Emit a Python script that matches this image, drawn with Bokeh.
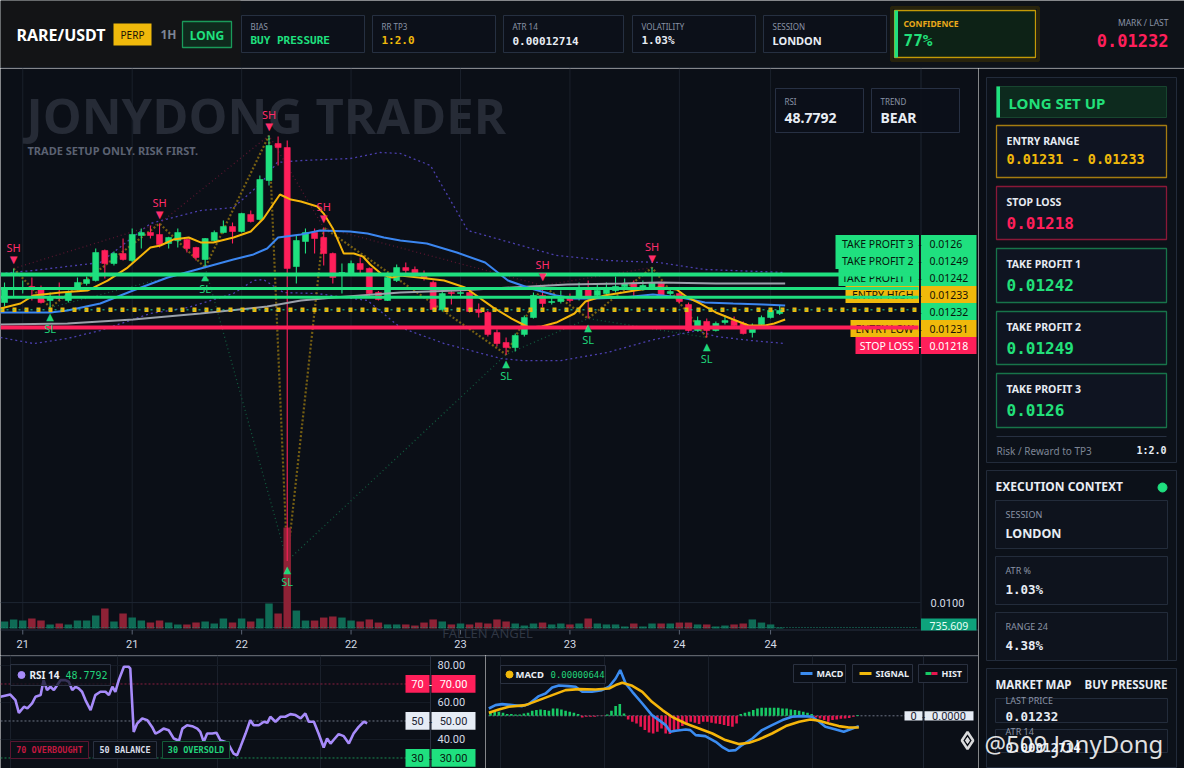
from bokeh.plotting import figure
from bokeh.layouts import column, row
from bokeh.models import Range1d, ColumnDataSource
from bokeh.embed import file_html
from bokeh.resources import INLINE
from bokeh.core.properties import value

# ======================= DATA =======================
date_ticks = [2, 14, 26, 38, 50, 62, 74, 84]
date_labels = ["21", "21", "22", "22", "23", "23", "24", "24"]

# candles, prices in units of 1e-5 USDT
c_open = [1237.8, 1248.1, 1248.1, 1250.5, 1248.9, 1239.4, 1242.6, 1239.4, 1248.9, 1252.9,
          1255.2, 1279.0, 1268.7, 1276.6, 1271.1, 1290.9, 1293.3, 1291.7, 1284.6, 1286.9,
          1287.7, 1281.4, 1271.9, 1286.9, 1293.3, 1298.0, 1294.1, 1307.6, 1303.6, 1334.5,
          1363.8, 1360.6, 1266.3, 1286.2, 1293.3, 1289.3, 1276.6, 1259.2, 1260.8, 1268.7,
          1264.8, 1245.7, 1239.4, 1255.2, 1265.5, 1264.0, 1260.8, 1253.7, 1232.3, 1245.7,
          1244.9, 1245.7, 1232.3, 1229.9, 1214.0, 1206.1, 1202.1, 1212.5, 1225.9, 1243.4,
          1237.8, 1238.6, 1242.6, 1241.0, 1249.7, 1243.4, 1244.9, 1247.3, 1250.5, 1252.9,
          1248.9, 1249.7, 1252.9, 1244.9, 1244.9, 1236.2, 1215.6, 1222.8, 1215.6, 1222.0,
          1223.5, 1221.2, 1214.0, 1220.4, 1225.9, 1229.1]
c_high = [1253.7, 1264.8, 1255.2, 1257.6, 1251.3, 1245.7, 1253.7, 1247.3, 1257.6, 1258.4,
          1280.6, 1279.8, 1278.2, 1288.5, 1296.5, 1296.5, 1298.8, 1300.4, 1290.0, 1296.5,
          1288.5, 1282.0, 1289.0, 1294.9, 1302.8, 1301.2, 1309.0, 1310.7, 1338.5, 1370.2,
          1369.4, 1366.2, 1290.9, 1296.5, 1296.5, 1297.2, 1277.4, 1268.7, 1271.1, 1273.5,
          1265.6, 1247.0, 1261.6, 1267.9, 1269.5, 1266.3, 1263.2, 1255.2, 1249.7, 1247.3,
          1251.3, 1247.3, 1237.0, 1231.0, 1216.4, 1210.1, 1213.2, 1227.5, 1245.7, 1251.3,
          1241.8, 1247.3, 1244.9, 1253.7, 1255.2, 1252.9, 1253.7, 1258.4, 1256.8, 1255.2,
          1255.2, 1265.5, 1254.5, 1248.9, 1246.5, 1237.8, 1226.7, 1225.1, 1222.8, 1227.5,
          1226.7, 1222.8, 1221.2, 1227.5, 1233.1, 1235.4]
c_low = [1234.6, 1241.8, 1244.9, 1239.4, 1237.0, 1233.8, 1239.4, 1237.8, 1247.3, 1251.3,
         1254.4, 1256.8, 1267.1, 1271.1, 1269.5, 1280.6, 1288.5, 1281.4, 1280.6, 1281.4,
         1277.4, 1271.1, 1265.5, 1286.0, 1292.5, 1284.6, 1293.3, 1301.2, 1302.8, 1330.5,
         1346.4, 1033.0, 1252.9, 1276.6, 1276.6, 1267.1, 1252.9, 1244.9, 1260.0, 1260.8,
         1241.8, 1239.4, 1239.0, 1254.0, 1260.8, 1259.2, 1255.2, 1231.5, 1230.7, 1236.2,
         1241.8, 1229.9, 1225.9, 1210.9, 1202.9, 1196.6, 1199.0, 1210.9, 1225.1, 1233.8,
         1236.2, 1237.0, 1237.8, 1239.4, 1225.1, 1241.8, 1243.4, 1245.7, 1248.9, 1241.0,
         1247.3, 1248.1, 1241.8, 1242.6, 1237.0, 1214.8, 1214.8, 1210.1, 1214.8, 1220.4,
         1218.8, 1212.5, 1210.1, 1218.8, 1225.1, 1228.0]
c_close = [1248.9, 1249.7, 1249.7, 1248.1, 1237.8, 1242.6, 1241.0, 1245.7, 1253.7, 1256.0,
           1277.4, 1268.7, 1276.6, 1271.9, 1291.7, 1293.3, 1290.9, 1283.8, 1289.3, 1293.3,
           1280.6, 1273.5, 1288.5, 1293.3, 1298.0, 1294.1, 1308.3, 1302.0, 1335.3, 1362.2,
           1360.6, 1264.8, 1286.9, 1293.3, 1288.5, 1276.6, 1257.6, 1261.6, 1268.7, 1264.0,
           1244.9, 1240.2, 1257.6, 1265.5, 1263.2, 1260.8, 1256.8, 1232.3, 1244.9, 1244.9,
           1245.7, 1230.7, 1229.9, 1212.5, 1205.3, 1202.1, 1211.7, 1225.9, 1243.4, 1237.0,
           1238.6, 1241.0, 1239.4, 1249.7, 1241.8, 1247.3, 1248.9, 1250.5, 1252.9, 1247.3,
           1251.3, 1253.7, 1243.4, 1246.5, 1238.6, 1215.6, 1223.5, 1215.6, 1221.2, 1223.5,
           1219.6, 1213.2, 1219.6, 1225.9, 1231.5, 1231.5]
volume_k = [52, 67, 59, 74, 59, 30, 37, 30, 59, 59, 96, 148, 52, 111, 81, 59, 44, 59, 44, 30,
            30, 44, 52, 37, 74, 44, 74, 52, 74, 185, 111, 747, 133, 59, 59, 81, 89, 81, 59, 52,
            67, 44, 30, 30, 30, 22, 44, 67, 52, 30, 37, 30, 44, 37, 67, 52, 37, 22, 37, 44,
            30, 37, 30, 37, 74, 37, 30, 30, 15, 37, 15, 37, 37, 37, 44, 44, 30, 30, 15, 22,
            30, 37, 67, 44, 30, 7]
last_volume = "735.609"

# moving averages / bands (x = candle index, y = price x 1e5)
ema_fast_x = [-0.44, 1.75, 3.18, 6.14, 9.1, 11.3, 13.5, 16.0, 17.1, 18.5, 20.2, 21.5, 22.9, 25.1, 27.0,
              28.4, 30.2, 31.4, 32.5, 34.3, 35.0, 36.0, 37.2, 38.3, 39.3, 40.1, 41.4, 42.5, 43.4, 45.4,
              48.2, 50.5, 53.6, 55.6, 57.5, 58.9, 60.5, 62.5, 63.7, 65.8, 67.8, 69.8, 71.8, 73.7, 74.9,
              76.3, 78.0, 79.9, 81.6, 83.4, 84.4, 85.6]
ema_fast_y = [1233.1, 1237.0, 1243.4, 1245.7, 1247.3, 1255.2, 1265.5, 1281.4, 1283.0, 1287.7, 1289.3,
              1285.4, 1285.4, 1289.3, 1294.1, 1304.4, 1323.4, 1319.4, 1317.9, 1313.9, 1308.3, 1296.5,
              1276.6, 1276.6, 1274.3, 1267.9, 1260.0, 1257.6, 1259.2, 1257.6, 1255.2, 1249.7, 1233.8,
              1225.1, 1218.0, 1218.8, 1221.9, 1229.1, 1238.6, 1243.4, 1245.7, 1248.1, 1249.7, 1248.1,
              1241.8, 1237.0, 1229.9, 1224.3, 1219.6, 1219.6, 1221.2, 1224.3]
ema_mid_x = [-0.44, 5.04, 6.9, 10.5, 14.1, 17.9, 21.5, 25.1, 27.3, 28.8, 30.0, 32.5, 34.6, 37.9, 39.8,
             41.6, 43.4, 46.3, 49.6, 52.7, 55.2, 57.7, 60.5, 62.5, 64.6, 67.8, 71.1, 74.2, 76.8, 79.9,
             83.2, 85.6]
ema_mid_y = [1229.9, 1229.9, 1231.5, 1237.0, 1247.3, 1257.6, 1264.8, 1271.9, 1275.9, 1280.6, 1289.3,
             1291.7, 1294.9, 1294.1, 1292.5, 1289.3, 1286.9, 1284.6, 1277.4, 1269.5, 1255.2, 1248.9,
             1243.4, 1241.0, 1241.0, 1241.8, 1244.2, 1241.8, 1237.8, 1237.0, 1236.2, 1235.4]
ma_slow_x = [-0.44, 6.9, 14.1, 21.5, 28.8, 32.5, 36.1, 43.4, 49.6, 55.6, 61.7, 67.8, 71.8, 78.0, 85.6]
ma_slow_y = [1220.4, 1221.2, 1224.3, 1229.1, 1234.6, 1239.4, 1241.8, 1245.7, 1247.3, 1249.7, 1252.1,
             1252.9, 1253.7, 1252.9, 1252.9]
bb_up_x = [-0.44, 3.18, 10.5, 16.0, 21.5, 25.1, 28.1, 29.9, 32.5, 37.9, 41.2, 43.4, 46.7, 50.8, 60.5,
           66.1, 71.8, 76.8, 85.6]
bb_up_y = [1260.8, 1263.2, 1269.5, 1300.4, 1310.7, 1313.1, 1332.1, 1348.8, 1350.3, 1351.9, 1356.7,
           1355.9, 1346.4, 1294.9, 1275.1, 1271.1, 1269.5, 1264.0, 1261.6]
bb_lo_x = [-0.44, 3.18, 6.9, 10.5, 16.0, 20.1, 25.1, 27.3, 28.4, 30.6, 34.3, 39.8, 43.4, 45.8, 48.2,
           51.1, 54.4, 56.8, 61.0, 66.1, 70.8, 75.9, 78.0, 81.8, 85.6]
bb_lo_y = [1210.1, 1205.3, 1209.3, 1215.6, 1229.1, 1233.8, 1244.9, 1255.2, 1256.0, 1245.7, 1244.9,
           1239.4, 1218.0, 1211.7, 1205.3, 1199.8, 1193.4, 1191.8, 1191.8, 1198.2, 1207.7, 1215.6,
           1210.9, 1207.7, 1205.3]

swing_high_idx = [1, 17, 29, 35, 59, 71]
swing_low_idx = [5, 22, 31, 55, 64, 77]

level_names = ["TAKE PROFIT 3", "TAKE PROFIT 2", "TAKE PROFIT 1", "ENTRY HIGH", "", "ENTRY LOW", "STOP LOSS"]
level_prices = [0.0126, 0.01249, 0.01242, 0.01233, 0.01232, 0.01231, 0.01218]
level_text = ["0.0126", "0.01249", "0.01242", "0.01233", "0.01232", "0.01231", "0.01218"]

# RSI 14 (x = bar index of the RSI pane)
rsi_x = [0, 2.3, 3.5, 4.3, 5.5, 6.3, 7.4, 8.2, 9.4, 10.1, 10.9, 11.7, 12.5, 13.3, 14.1, 15.2, 16.0,
         16.8, 17.6, 18.3, 19.1, 19.9, 21.1, 22.2, 23.4, 24.6, 25.4, 26.2, 26.9, 27.7, 28.9, 30.0,
         30.4, 31.2, 32.0, 33.2, 34.4, 35.5, 36.3, 37.1, 38.2, 39.4, 40.6, 41.8, 42.6, 43.7, 44.9,
         46.1, 46.8, 47.6, 48.4, 49.6, 50.6, 51.5, 52.7, 53.5, 54.6, 55.4, 56.2, 57.4, 58.5, 59.3,
         60.5, 61.7, 62.5, 63.2, 64.4, 65.6, 66.7, 67.9, 69.1, 70.3, 71.4, 72.2, 73.4, 74.5, 75.7,
         76.5, 77.3, 78.1, 79.2, 80.4, 81.6, 82.7, 83.9, 85.1, 85.9]
rsi_v = [63.1, 64.3, 61.3, 54.4, 57.7, 56.8, 59.5, 63.1, 64.0, 72.1, 66.7, 68.5, 66.7, 69.4, 72.1, 72.1,
         71.2, 66.7, 68.5, 67.6, 65.8, 61.3, 55.9, 64.0, 65.8, 65.8, 64.0, 68.5, 65.8, 72.1, 79.3, 79.3,
         78.4, 44.1, 48.6, 51.4, 50.4, 46.8, 43.2, 44.1, 45.9, 45.0, 40.5, 39.3, 45.9, 47.7, 47.2, 45.9,
         44.1, 38.7, 43.2, 43.2, 43.6, 39.6, 38.7, 36.9, 32.4, 31.5, 36.0, 43.2, 50.4, 47.7, 47.7, 49.6,
         49.0, 52.3, 49.6, 52.3, 52.3, 53.7, 53.2, 51.4, 54.1, 49.6, 49.6, 43.2, 35.7, 40.5, 37.8, 40.0,
         42.9, 41.8, 37.8, 43.2, 46.8, 49.6, 48.8]
rsi_last = "48.7792"
rsi_levels = [70, 50, 30]
rsi_axis = [80, 60, 40]

# MACD (units of 1e-6)
macd_x = [-0.4, 1.2, 2.8, 5.2, 7.6, 9.2, 11.6, 13.2, 14.8, 16.4, 18.7, 20.4, 22.0, 24.3, 26.7, 28.4,
          30.0, 31.1, 32.4, 34.0, 36.4, 38.7, 40.4, 42.0, 43.1, 44.4, 46.8, 47.9, 49.2, 51.5, 54.0,
          55.5, 57.2, 58.8, 60.3, 62.8, 65.1, 67.5, 70.0, 72.3, 74.8, 77.1, 78.8, 80.3, 82.8, 84.7,
          86.8, 88.3]
macd_v = [7.3, 10.7, 11.7, 10.7, 9.7, 11.7, 19.7, 22.3, 28.3, 30.3, 29.7, 29.0, 24.0, 24.0, 25.7, 29.0,
          37.3, 45.7, 32.3, 24.0, 12.3, 0.7, -4.3, -9.3, -16.0, -15.0, -13.7, -14.3, -19.3, -20.3,
          -26.0, -31.0, -35.0, -34.3, -29.3, -22.7, -14.3, -9.3, -4.3, -1.0, -0.3, -1.0, -6.0, -11.0,
          -13.7, -16.0, -12.7, -10.3]
signal_x = [-0.4, 2.0, 4.4, 8.4, 11.6, 14.8, 18.0, 21.2, 25.2, 28.4, 30.0, 31.6, 34.0, 36.4, 38.7,
            41.2, 43.5, 46.8, 50.0, 53.2, 56.3, 59.5, 62.0, 64.3, 67.5, 70.8, 74.0, 76.7, 78.8, 81.1,
            83.5, 85.9, 88.3]
signal_v = [3.0, 6.3, 9.0, 10.7, 15.7, 20.7, 25.7, 26.7, 26.3, 27.3, 30.7, 33.0, 30.0, 24.0, 14.0, 5.7,
            -1.0, -7.7, -12.7, -17.7, -24.3, -28.3, -27.0, -23.7, -17.7, -10.3, -6.0, -3.7, -5.0, -7.7,
            -10.3, -11.7, -11.7]
hist_v = [4.0, 5.0, 4.0, 3.0, 1.7, 1.7, 1.3, 1.3, 2.3, 3.0, 5.0, 5.7, 6.3, 5.7, 5.0, 7.3, 7.3, 6.3, 5.0,
          4.0, 3.0, 1.7, -1.7, -1.0, -1.0, -1.0, -0.3, -0.3, 1.3, 5.0, 9.7, 11.7, 2.3, -3.7, -6.0, -7.7,
          -11.0, -14.3, -16.7, -17.7, -16.0, -12.7, -17.7, -18.3, -16.0, -13.7, -10.3, -7.7, -6.0, -7.0,
          -8.3, -6.0, -6.0, -7.0, -7.7, -8.3, -9.3, -10.3, -11.0, -7.7, 1.7, 3.0, 4.0, 5.7, 7.3, 8.0, 8.0,
          8.0, 8.0, 8.0, 7.3, 7.3, 6.3, 5.7, 5.0, 4.0, 3.0, 1.7, -1.7, -2.7, -4.3, -6.0, -4.3, -3.7, -3.0,
          -2.7, -2.3, -1.0, 0.7]
macd_last = "0.00000644"

header_stats = [("BIAS", "BUY PRESSURE"), ("RR TP3", "1:2.0"), ("ATR 14", "0.00012714"),
                ("VOLATILITY", "1.03%"), ("SESSION", "LONDON")]

# ======================= STYLE =======================
BG = "#0b0f17"
GREEN = "#1fe07f"
RED = "#ff1f5a"
YEL = "#f0b90b"
GRAY = "#8a93a6"
WHITE = "#e8edf4"
SANS = "Noto Sans"
MONO = "DejaVu Sans Mono"
P = 1e-5


def mkfig(w, h, xr, yr, bg):
    p = figure(width=w, height=h, x_range=xr, y_range=yr, output_backend="svg",
               toolbar_location=None, x_axis_location=None, y_axis_location=None, min_border=0)
    p.background_fill_color = bg
    p.border_fill_color = bg
    p.outline_line_color = None
    p.xgrid.visible = False
    p.ygrid.visible = False
    return p


def box(p, x0, y0, x1, y1, fill=None, line=None, lw=1.0, fa=1.0, la=1.0, **kw):
    p.quad(left=[x0], right=[x1], top=[y0], bottom=[y1], fill_color=fill, fill_alpha=fa,
           line_color=line, line_width=lw, line_alpha=la, **kw)


def label(p, x, y, s, size, color, font=SANS, bold=False, align="left", alpha=1.0, **kw):
    p.text(x=[x], y=[y], text=[s], text_font=value(font), text_font_size=f"{size}px",
           text_font_style="bold" if bold else "normal", text_color=color,
           text_align=align, text_baseline="middle", text_alpha=alpha, **kw)


def hline(p, x0, x1, y, color, lw=1.0, dash="solid", alpha=1.0, **kw):
    p.segment(x0=[x0], x1=[x1], y0=[y], y1=[y], line_color=color, line_width=lw,
              line_dash=dash, line_alpha=alpha, **kw)


def vline(p, x, y0, y1, color, lw=1.0, **kw):
    p.segment(x0=[x], x1=[x], y0=[y0], y1=[y1], line_color=color, line_width=lw, **kw)


# ======================= HEADER =======================
hdr = mkfig(1184, 68, Range1d(0, 1184), Range1d(68, 0), "#0e1218")
box(hdr, 0, 0, 240, 67, fill="#131416", line=None)
label(hdr, 16, 34, "RARE/USDT", 16, "#ffffff", bold=True)
box(hdr, 113, 23, 151, 45, fill=YEL)
label(hdr, 132, 34.5, "PERP", 10, "#1a1405", align="center")
label(hdr, 160, 34, "1H", 12, "#7d8595", bold=True)
box(hdr, 182, 21, 231, 47, fill="#0f2a1d", line="#1a9a5a", lw=1.3)
label(hdr, 206.5, 34.5, "LONG", 12, GREEN, bold=True, align="center")
stat_x = [(241, 364), (372, 495), (503, 623), (632, 755), (763, 886)]
stat_col = [GREEN, YEL, WHITE, WHITE, WHITE]
stat_font = [MONO, MONO, MONO, MONO, SANS]
for (x0, x1), (lab, val), col, fnt in zip(stat_x, header_stats, stat_col, stat_font):
    box(hdr, x0, 15, x1, 52, fill="#0c1019", line="#263041")
    label(hdr, x0 + 9, 26, lab, 8, GRAY)
    label(hdr, x0 + 9, 40, val, 11, col, font=fnt, bold=True)
box(hdr, 891, 7, 1038, 60, fill=None, line="#3a2f05", lw=3, la=0.6)
box(hdr, 894, 10, 1035, 57, fill="#0d2216", line="#c49a06", lw=1.3)
box(hdr, 894, 10, 897.5, 57, fill=GREEN, line=None)
label(hdr, 903, 23, "CONFIDENCE", 8.5, "#e9a91a", bold=True)
label(hdr, 903, 40, "77%", 16, "#22e07a", font=MONO, bold=True)
label(hdr, 1168, 22, "MARK / LAST", 8.5, GRAY, align="right")
label(hdr, 1168, 40, level_text[4], 17, RED, font=MONO, bold=True, align="right")
hline(hdr, 0, 1184, 67.3, "#222a36", lw=1.2)

# ======================= MAIN CHART =======================
# frame covers reference rows 68..655; price scale for the plot rows 68..628
main = mkfig(978, 587, Range1d(-0.44, 106.8), Range1d(0.0095807, 0.0142325), BG)
main.extra_x_ranges = {"px": Range1d(0, 978)}
main.extra_y_ranges = {"py": Range1d(655, 68), "vol": Range1d(-199.8, 4144)}
PX = dict(x_range_name="px", y_range_name="py")

# time axis (grid, ticks, labels) through the candle-index scale
tick_src = ColumnDataSource(dict(x=date_ticks, lab=date_labels))
main.segment(x0="x", x1="x", y0=68, y1=628, line_color="#1a202b", y_range_name="py", source=tick_src)
hline(main, 0, 978, 629.5, "#283040", **PX)
main.segment(x0="x", x1="x", y0=629.5, y1=634, line_color="#5a6373", y_range_name="py", source=tick_src)
main.text(x="x", y=643, text="lab", text_align="center", text_baseline="middle", y_range_name="py",
          text_font=value("Roboto"), text_font_size="11px", text_color="#d5dbe5", source=tick_src)

label(main, 26, 114, "JONYDONG TRADER", 49, "#262b36", font="Open Sans", bold=True, **PX)
label(main, 27, 150, "TRADE SETUP ONLY. RISK FIRST.", 11, "#5b6272", bold=True, **PX)
vline(main, 920.5, 68, 629, "#1f2633", **PX)
hline(main, 0, 920, 0.0100, "#1e2532", x_range_name="px")
label(main, 930, 0.0100, "0.0100", 11, "#d5dbe5", font="Roboto", x_range_name="px")

# Bollinger bands
main.line(bb_up_x, [v * P for v in bb_up_y], line_color="#4b3fae", line_width=1.3, line_dash="2 3")
main.line(bb_lo_x, [v * P for v in bb_lo_y], line_color="#4b3fae", line_width=1.3, line_dash="2 3")

# swing structure lines
sw = sorted([(i, c_high[i]) for i in swing_high_idx] + [(i, c_low[i]) for i in swing_low_idx])
main.line([s[0] for s in sw], [s[1] * P for s in sw], line_color="#8a6d12", line_alpha=0.85,
          line_width=2.2, line_dash="2 2")
main.line(swing_low_idx, [c_low[i] * P for i in swing_low_idx], line_color="#167a50",
          line_alpha=0.7, line_width=1.3, line_dash="1 3")
main.line(swing_high_idx, [c_high[i] * P for i in swing_high_idx], line_color="#7a1a3a",
          line_alpha=0.7, line_width=1.3, line_dash="1 3")

# candles + volume
idx = list(range(len(c_open)))
inc = [c >= o for o, c in zip(c_open, c_close)]
src = ColumnDataSource(dict(
    x=idx, h=[v * P for v in c_high], l=[v * P for v in c_low],
    top=[max(o, c) * P for o, c in zip(c_open, c_close)],
    bot=[min(o, c) * P for o, c in zip(c_open, c_close)],
    col=[GREEN if u else RED for u in inc],
    vcol=["#0f6b55" if u else "#8e2236" for u in inc],
    vol=volume_k))
main.vbar(x="x", width=0.82, top="vol", bottom=0, fill_color="vcol", line_color=None,
          y_range_name="vol", source=src)
main.segment(x0="x", x1="x", y0="l", y1="h", line_color="col", line_width=1.1, source=src)
main.vbar(x="x", width=0.66, top="top", bottom="bot", fill_color="col", line_color="col",
          line_width=0.6, source=src)

# moving averages
main.line(ma_slow_x, [v * P for v in ma_slow_y], line_color="#9ba1ab", line_width=2)
main.line(ema_mid_x, [v * P for v in ema_mid_y], line_color="#3b86f0", line_width=2)
main.line(ema_fast_x, [v * P for v in ema_fast_y], line_color="#f5b50a", line_width=2)

# level labels (right side)
row_y = [243, 260, 277, 294, 311, 328, 345]
name_x0 = [835, 835, 838, 845, None, 850, 855]
fills = [GREEN, GREEN, GREEN, YEL, GREEN, YEL, RED]
tcols = ["#06170d", "#06170d", "#06170d", "#1a1405", "#06170d", "#1a1405", "#ffffff"]
for nm, txt, yy, x0, fc, tc in zip(level_names, level_text, row_y, name_x0, fills, tcols):
    if x0 is not None:
        box(main, x0, yy - 8.5, 918.5, yy + 8.5, fill=fc, line=None, **PX)
        label(main, 913, yy + 0.5, nm, 10.5, tc, align="right", **PX)
    box(main, 920.5, yy - 8.5, 976, yy + 8.5, fill=fc, line=None, **PX)
    label(main, 919.5, yy, "-", 10, tc, align="center", **PX)
    label(main, 929, yy + 0.5, txt, 10.5, tc, **PX)

# level lines
hline(main, 0, 918, level_prices[0], GREEN, lw=4, x_range_name="px")
hline(main, 0, 918, level_prices[1], GREEN, lw=3, x_range_name="px")
hline(main, 0, 918, level_prices[2], GREEN, lw=3, x_range_name="px")
hline(main, 0, 918, level_prices[4], YEL, lw=4.5, dash="4 8", x_range_name="px")
hline(main, 0, 918, level_prices[4], "#20d6a0", lw=1, dash="2 4", x_range_name="px")
hline(main, 0, 918, level_prices[6], RED, lw=4, x_range_name="px")

# swing markers
shy = [c_high[i] * P for i in swing_high_idx]
sly = [c_low[i] * P for i in swing_low_idx]
n1, n2 = len(swing_high_idx), len(swing_low_idx)
main.text(x=swing_high_idx, y=shy, text=["▼"] * n1, y_offset=-9, text_align="center", text_baseline="middle",
          text_font=value("DejaVu Sans"), text_font_size="10px", text_color="#ff2d6b")
main.text(x=swing_high_idx, y=shy, text=["SH"] * n1, y_offset=-21, text_align="center", text_baseline="middle",
          text_font=value(SANS), text_font_size="11px", text_color="#ff2d6b")
main.text(x=swing_low_idx, y=sly, text=["▲"] * n2, y_offset=9, text_align="center", text_baseline="middle",
          text_font=value("DejaVu Sans"), text_font_size="10px", text_color="#1fd67a")
main.text(x=swing_low_idx, y=sly, text=["SL"] * n2, y_offset=21, text_align="center", text_baseline="middle",
          text_font=value(SANS), text_font_size="11px", text_color="#1fd67a")

# info boxes
for x0, lab, val in [(775, "RSI", rsi_last), (871, "TREND", "BEAR")]:
    box(main, x0, 88, x0 + 88, 132, fill="#0b1019", line="#273043", fa=0.9, **PX)
    label(main, x0 + 9, 101, lab, 8, GRAY, **PX)
    label(main, x0 + 9, 117, val, 14, WHITE, bold=True, **PX)

# volume last label + baseline
hline(main, 0, 918, 627, "#1a8a70", lw=1, dash="1 2", **PX)
box(main, 920.5, 618, 976, 630, fill="#0ea37c", line=None, **PX)
label(main, 929, 625, last_volume, 10.5, "#e8fff6", **PX)
label(main, 487, 632, "FALLEN ANGEL", 13, "#3a4150", align="center", alpha=0.8, **PX)

# ======================= RSI PANE =======================
rsi = mkfig(485, 113, Range1d(0, 113.6), Range1d(24.32, 85.4), BG)
rsi.extra_x_ranges = {"px": Range1d(0, 485)}
rsi.extra_y_ranges = {"py": Range1d(770, 657)}
hline(rsi, 0, 485, 657.5, "#222a36", lw=1.5, **PX)
for gx in [10, 117, 217, 320]:
    vline(rsi, gx, 657, 770, "#1a202b", **PX)
for lv in rsi_axis:
    hline(rsi, 0, 430, lv, "#161c26", x_range_name="px")
for lv, cl in zip(rsi_levels, ["#8a1f40", "#6d7585", "#1a8a50"]):
    hline(rsi, 0, 430, lv, cl, dash="2 2", x_range_name="px")
vline(rsi, 430, 657, 770, "#2a3140", **PX)
for lv in rsi_axis:
    label(rsi, 437, lv, f"{lv:.2f}", 11, "#d5dbe5", font="Roboto", x_range_name="px")
for lv, fc, tc in zip(rsi_levels, [RED, "#e6ecf5", GREEN], ["#ffffff", "#1a2230", "#06170d"]):
    box(rsi, 405, lv + 4.8, 429, lv - 4.8, fill=fc, line=None, x_range_name="px")
    box(rsi, 431, lv + 4.8, 475, lv - 4.8, fill=fc, line=None, x_range_name="px")
    label(rsi, 417, lv, f"{lv}", 11, tc, font="Roboto", align="center", x_range_name="px")
    label(rsi, 430, lv, "-", 10, tc, align="center", x_range_name="px")
    label(rsi, 453, lv, f"{lv:.2f}", 11, tc, font="Roboto", align="center", x_range_name="px")
rsi.line(rsi_x, rsi_v, line_color="#a78bfa", line_width=2.6)
box(rsi, 10, 666, 110, 687, fill="#0b0f17", line="#2a3140", fa=0.72, **PX)
rsi.scatter([21], [676.5], size=7, color="#a78bfa", **PX)
label(rsi, 29, 676.5, "RSI 14", 10, WHITE, bold=True, **PX)
label(rsi, 65, 676.5, rsi_last, 10, "#22d37a", font=MONO, **PX)
for x0, x1, txt, bc, tc in [(10, 88, "70 OVERBOUGHT", "#5a1530", "#c0183f"),
                            (93, 156, "50 BALANCE", "#2a3140", "#d8dee9"),
                            (162, 229, "30 OVERSOLD", "#145a38", "#22d37a")]:
    box(rsi, x0, 743, x1, 760, fill="#0b0f17", line=bc, **PX)
    label(rsi, (x0 + x1) / 2, 751.5, txt, 8.5, tc, font=MONO, bold=True, align="center", **PX)

# ======================= MACD PANE =======================
macd = mkfig(493, 113, Range1d(-1.2, 117.0), Range1d(-52.7, 60.3), BG)
macd.extra_x_ranges = {"px": Range1d(485, 978)}
macd.extra_y_ranges = {"py": Range1d(770, 657)}
hline(macd, 485, 978, 657.5, "#222a36", lw=1.5, **PX)
for gx in [500, 604, 708, 812]:
    vline(macd, gx, 657, 770, "#1a202b", **PX)
vline(macd, 923, 657, 770, "#1f2633", **PX)
hline(macd, 488, 905, 0, "#6b7383", dash="2 2", x_range_name="px")
hk = list(range(len(hist_v)))
macd.vbar(x=hk, width=0.62, top=[max(v, 0) for v in hist_v], bottom=[min(v, 0) for v in hist_v],
          fill_color=["#17c964" if v >= 0 else "#e8154f" for v in hist_v], line_color=None)
macd.line(macd_x, macd_v, line_color="#3b8cf0", line_width=2.6)
macd.line(signal_x, signal_v, line_color="#f5b50a", line_width=2.6)
box(macd, 904, 4.6, 922, -4.6, fill="#e6ecf5", line=None, x_range_name="px")
box(macd, 924, 4.6, 973, -4.6, fill="#e6ecf5", line=None, x_range_name="px")
label(macd, 913, 0, "0", 11, "#1a2230", font="Roboto", align="center", x_range_name="px")
label(macd, 923, 0, "-", 10, "#1a2230", align="center", x_range_name="px")
label(macd, 948.5, 0, "0.0000", 11, "#1a2230", font="Roboto", align="center", x_range_name="px")
box(macd, 500, 667, 605, 685, fill="#0b0f17", line="#2a3140", fa=0.72, **PX)
macd.scatter([509], [676], size=7, color=YEL, **PX)
label(macd, 515, 676, "MACD", 9.5, WHITE, bold=True, **PX)
label(macd, 550, 676, macd_last, 9, "#22d37a", font=MONO, **PX)
for x0, x1, txt, cl in [(793, 845, "MACD", "#3b8cf0"), (852, 912, "SIGNAL", YEL), (918, 967, "HIST", None)]:
    box(macd, x0, 666, x1, 684, fill="#0b0f17", line="#2a3140", **PX)
    if cl:
        hline(macd, x0 + 7, x0 + 19, 675, cl, lw=3, **PX)
    else:
        hline(macd, x0 + 7, x0 + 13, 675, "#17c964", lw=3, **PX)
        hline(macd, x0 + 13, x0 + 19, 675, "#e8154f", lw=3, **PX)
    label(macd, x0 + 23, 675, txt, 9, WHITE, bold=True, **PX)
macd.scatter([967], [742], marker="diamond", size=17, fill_color=None, line_color="#ffffff",
             line_width=2.5, line_alpha=0.85, **PX)
macd.scatter([967], [742], marker="diamond", size=6, color="#ffffff", alpha=0.85, **PX)

# ======================= SIDE PANEL =======================
side = mkfig(206, 700, Range1d(978, 1184), Range1d(768, 68), "#0a0e15")
box(side, 986, 77, 1176, 462, fill="#0c1119", line="#222b3a")
box(side, 996, 86, 1166, 117, fill="#0d2a1e", line="#17452f")
box(side, 996, 86, 999.5, 117, fill=GREEN, line=None)
label(side, 1008, 102, "LONG SET UP", 15, "#22e07a", bold=True)
cards = [(125, 177, "ENTRY RANGE", f"{level_text[5]} - {level_text[3]}", "#a57c10", YEL, 13.5),
         (186, 239, "STOP LOSS", level_text[6], "#8a1838", RED, 16),
         (248, 302, "TAKE PROFIT 1", level_text[2], "#17744a", "#22e07a", 16),
         (311, 364, "TAKE PROFIT 2", level_text[1], "#17744a", "#22e07a", 16),
         (373, 427, "TAKE PROFIT 3", level_text[0], "#17744a", "#22e07a", 16)]
for y0, y1, lab, val, bc, vc, fs in cards:
    box(side, 996, y0, 1166, y1, fill="#0f1421", line=bc, lw=1.3)
    label(side, 1006, y0 + 15, lab, 10.5, "#e6ebf2", bold=True)
    label(side, 1006, y0 + (33 if fs < 15 else 36), val, fs, vc, font=MONO, bold=True)
hline(side, 996, 1166, 436, "#273041")
label(side, 996, 450, "Risk / Reward to TP3", 10, "#7d8595")
label(side, 1166, 450, "1:2.0", 10, WHITE, font=MONO, bold=True, align="right")

box(side, 986, 470, 1176, 660, fill="#0c1119", line="#222b3a")
label(side, 995, 486, "EXECUTION CONTEXT", 12, WHITE, bold=True)
side.scatter([1162], [487], size=9, color=GREEN)
for y0, y1, lab, val, fnt in [(500, 548, "SESSION", "LONDON", SANS), (556, 604, "ATR %", "1.03%", MONO),
                              (612, 660, "RANGE 24", "4.38%", MONO)]:
    box(side, 995, y0, 1167, y1, fill="#0e131d", line="#232c3b")
    label(side, 1005, y0 + 14, lab, 9, GRAY)
    label(side, 1005, y0 + 33, val, 12.5, WHITE, font=fnt, bold=True)

box(side, 986, 668, 1176, 767, fill="#0c1119", line="#222b3a")
label(side, 995, 684, "MARKET MAP", 11.5, WHITE, bold=True)
label(side, 1167, 684, "BUY PRESSURE", 11.5, WHITE, bold=True, align="right")
for y0, y1, lab, val in [(698, 722, "LAST PRICE", level_text[4]), (729, 752, "ATR 14", "0.00012714")]:
    box(side, 995, y0, 1167, y1, fill="#0e131d", line="#232c3b")
    label(side, 1005, y0 + 2, lab, 9, GRAY)
    label(side, 1005, y0 + 18, val, 12.5, WHITE, font=MONO, bold=True)
label(side, 984, 743, "@509 JonyDong", 24, "#ffffff", alpha=0.88)

# ======================= LAYOUT =======================
left = column(main, row(rsi, macd, spacing=0), spacing=0)
page = column(hdr, row(left, side, spacing=0), spacing=0)
open("out.html", "w").write(file_html(page, INLINE))
